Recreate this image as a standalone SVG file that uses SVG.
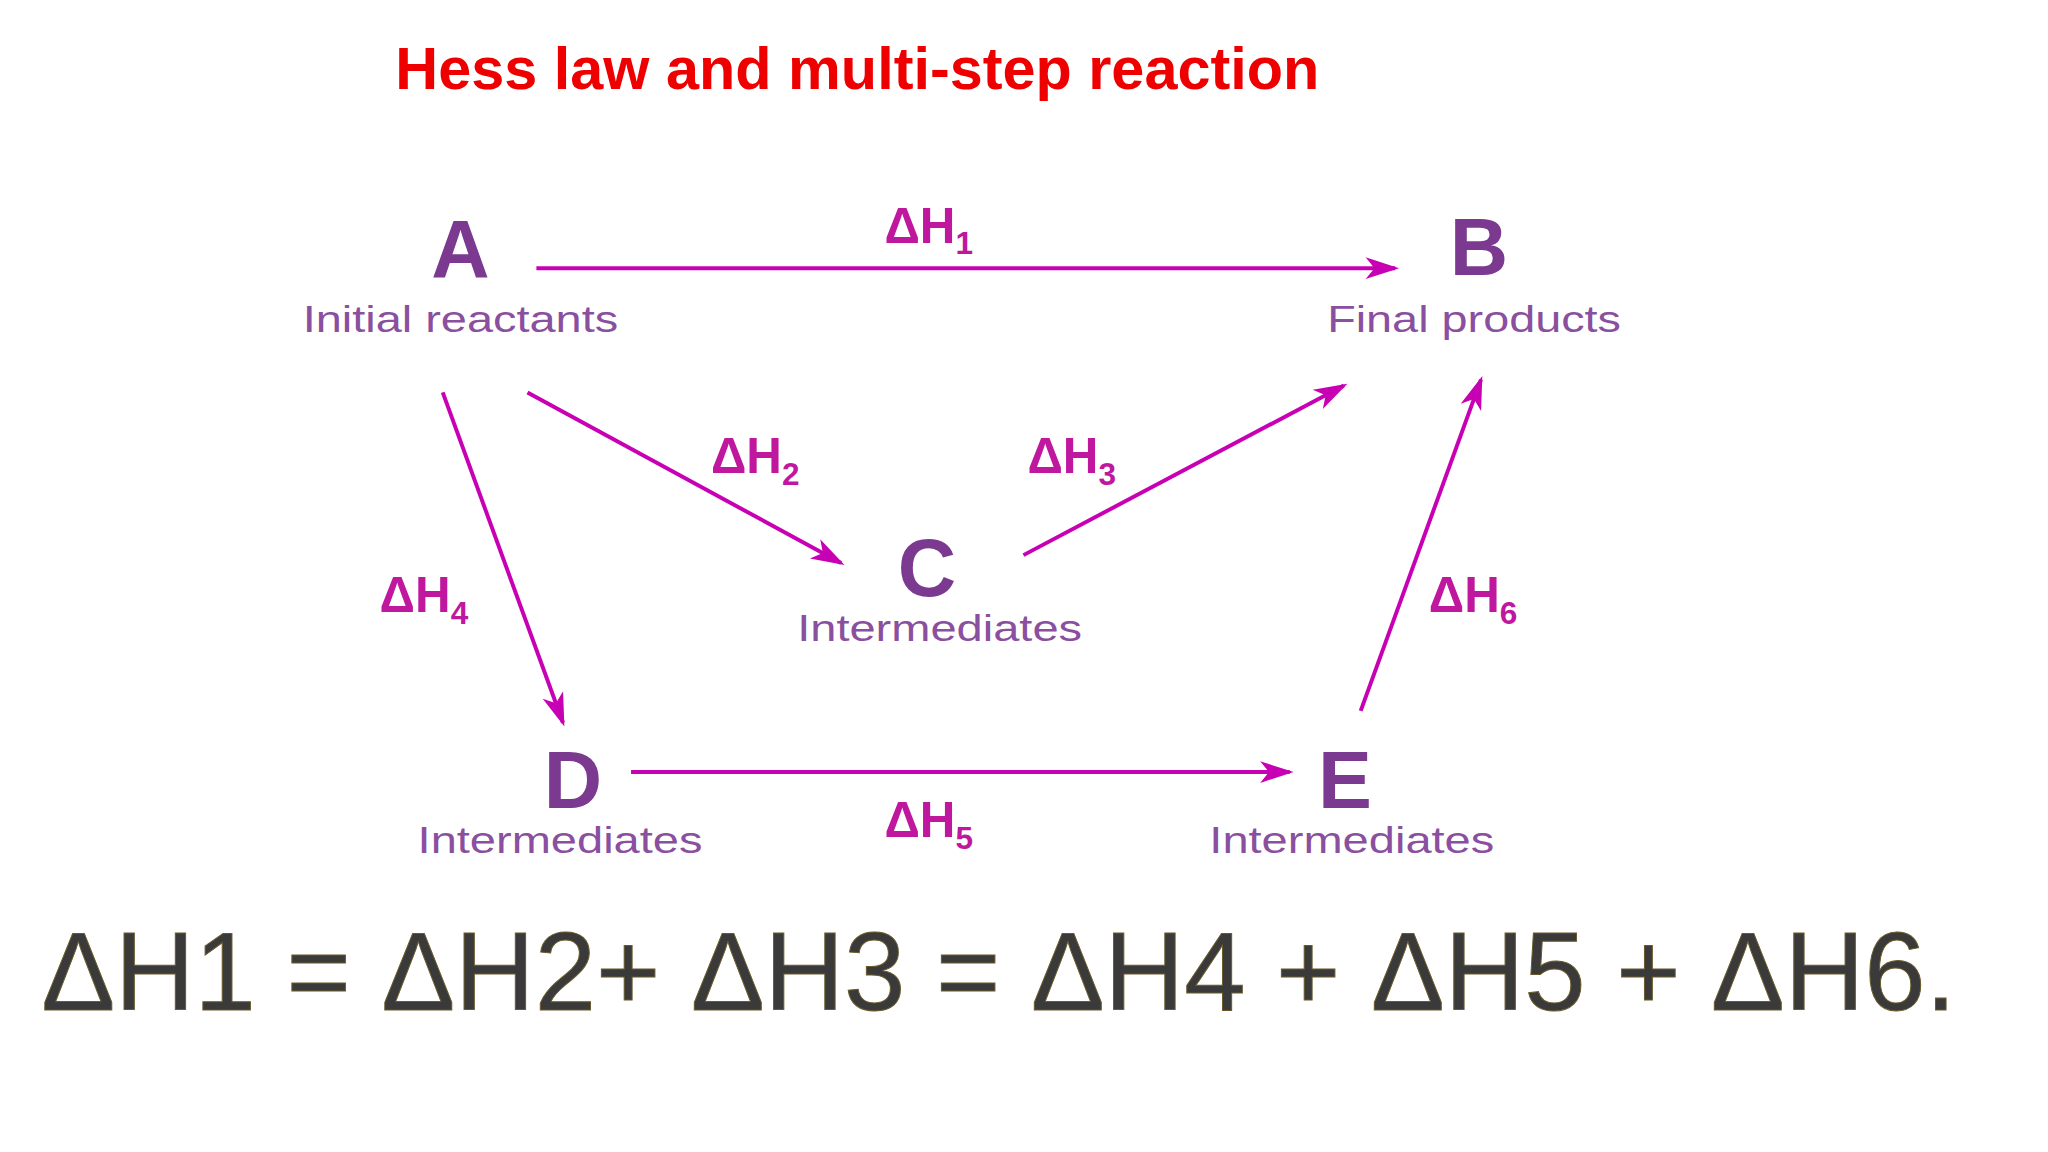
<svg xmlns="http://www.w3.org/2000/svg" width="2048" height="1152" viewBox="0 0 2048 1152">
<style>
.big{font-family:"Liberation Sans",Arial,sans-serif;font-weight:bold;font-size:82px;fill:#7b3a8f;text-anchor:middle}
.sub{font-family:"Liberation Sans",Arial,sans-serif;font-size:38px;fill:#8a4f9e;text-anchor:middle}
.dh{font-family:"Liberation Sans",Arial,sans-serif;font-weight:bold;font-size:50px;fill:#c0179f}
.dh tspan{font-size:32px}
.ar{stroke:#c800b4;stroke-width:4;fill:none;marker-end:url(#ah)}
</style>
<defs><marker id="ah" refX="0" refY="0" markerWidth="10" markerHeight="10" markerUnits="userSpaceOnUse" orient="auto" overflow="visible"><path d="M-30,-11 L4,0 L-30,11 L-21,0 Z" fill="#c800b4"/></marker></defs>
<rect width="2048" height="1152" fill="#fff"/>
<g transform="scale(0.986)">
<text x="401" y="90" font-family="Liberation Sans,Arial,sans-serif" font-weight="bold" font-size="60" fill="#ee0000" textLength="937" lengthAdjust="spacingAndGlyphs">Hess law and multi-step reaction</text>
<g id="A"><text class="big" x="467" y="281">A</text><text class="sub" x="467" y="337" textLength="320" lengthAdjust="spacingAndGlyphs">Initial reactants</text></g>
<g id="B"><text class="big" x="1500" y="279">B</text><text class="sub" x="1495" y="337" textLength="298" lengthAdjust="spacingAndGlyphs">Final products</text></g>
<g id="C"><text class="big" x="940" y="604">C</text><text class="sub" x="953" y="650" textLength="289" lengthAdjust="spacingAndGlyphs">Intermediates</text></g>
<g id="D"><text class="big" x="581" y="819">D</text><text class="sub" x="568" y="865" textLength="289" lengthAdjust="spacingAndGlyphs">Intermediates</text></g>
<g id="E"><text class="big" x="1364" y="819">E</text><text class="sub" x="1371" y="865" textLength="289" lengthAdjust="spacingAndGlyphs">Intermediates</text></g>
<g id="connectors">
<path class="ar" d="M544,272 L1415,272"/>
<path class="ar" d="M535,398 L853,571"/>
<path class="ar" d="M1038,563 L1363,391"/>
<path class="ar" d="M449,398 L571,733"/>
<path class="ar" d="M640,783 L1308,783"/>
<path class="ar" d="M1380,721 L1502,385"/>
<text class="dh" x="897" y="246">ΔH<tspan dy="12">1</tspan></text>
<text class="dh" x="721" y="480">ΔH<tspan dy="12">2</tspan></text>
<text class="dh" x="1042" y="480">ΔH<tspan dy="12">3</tspan></text>
<text class="dh" x="385" y="621">ΔH<tspan dy="12">4</tspan></text>
<text class="dh" x="897" y="849">ΔH<tspan dy="12">5</tspan></text>
<text class="dh" x="1449" y="621">ΔH<tspan dy="12">6</tspan></text>
</g>
<text x="42" y="1024" font-family="Liberation Sans,Arial,sans-serif" font-size="112" fill="#3a3a3a" stroke="#6b5a2a" stroke-width="1" textLength="1942" lengthAdjust="spacingAndGlyphs">ΔH1 = ΔH2+ ΔH3 = ΔH4 + ΔH5 + ΔH6.</text>
</g>
</svg>
